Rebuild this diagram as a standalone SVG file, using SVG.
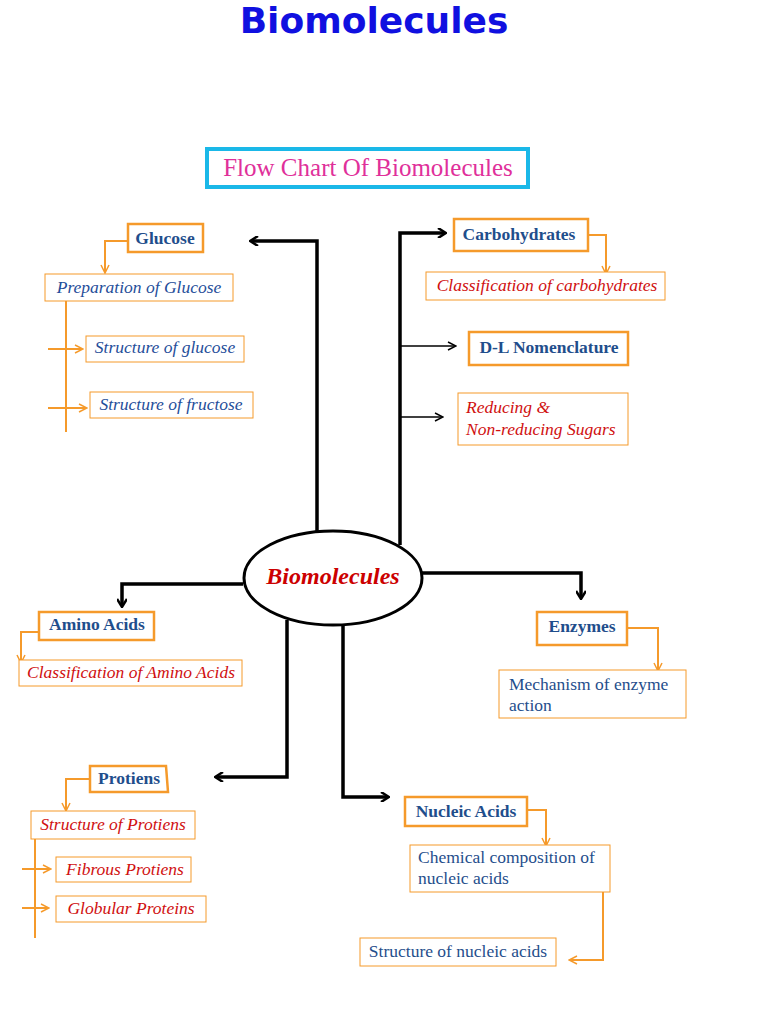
<svg xmlns="http://www.w3.org/2000/svg" width="768" height="1024" viewBox="0 0 768 1024">
<defs>
<marker id="ab" markerWidth="10" markerHeight="10" refX="8" refY="5" orient="auto" markerUnits="userSpaceOnUse"><path d="M1,0 L9,5 L1,10" fill="none" stroke="#000" stroke-width="2.5"/></marker>
<marker id="at" markerWidth="10" markerHeight="10" refX="8" refY="5" orient="auto" markerUnits="userSpaceOnUse"><path d="M1,1 L9,5 L1,9" fill="none" stroke="#000" stroke-width="1.5"/></marker>
<marker id="ao" markerWidth="10" markerHeight="10" refX="8" refY="5" orient="auto" markerUnits="userSpaceOnUse"><path d="M1,1 L9,5 L1,9" fill="none" stroke="#f59a2b" stroke-width="1.5"/></marker>
</defs>
<style>
.bk{fill:none;stroke:#000;stroke-width:3.5}
.th{fill:none;stroke:#000;stroke-width:1.5}
.oc{fill:none;stroke:#f59a2b;stroke-width:2}
.b2{fill:#fff;stroke:#f59a2b;stroke-width:2.5}
.b1{fill:#fff;stroke:#f59a2b;stroke-width:1}
text{font-family:"Liberation Serif",serif;font-size:17.5px}
.hb{fill:#1f4e8c;font-weight:bold}
.bi{fill:#1f4e9a;font-style:italic}
.ri{fill:#d01010;font-style:italic}
.bn{fill:#1f4e8c}
</style>
<text x="374" y="33" text-anchor="middle" style="font-family:'DejaVu Sans',sans-serif;font-size:36px;font-weight:bold;fill:#1010e0">Biomolecules</text>
<g id="title"><rect x="207" y="149" width="321" height="38" fill="#fff" stroke="#1ab8e8" stroke-width="4"/><text x="368" y="176" text-anchor="middle" style="font-size:25px;fill:#e0309a">Flow Chart Of Biomolecules</text></g>
<g id="connectors">
<path class="bk" d="M317,532 V241 H251" marker-end="url(#ab)"/>
<path class="bk" d="M400,545 V233 H445" marker-end="url(#ab)"/>
<path class="th" d="M400,346 H455" marker-end="url(#at)"/>
<path class="th" d="M400,417 H442" marker-end="url(#at)"/>
<path class="bk" d="M243,584 H122 V606" marker-end="url(#ab)"/>
<path class="bk" d="M422,573 H581 V598" marker-end="url(#ab)"/>
<path class="bk" d="M287,620 V777 H216" marker-end="url(#ab)"/>
<path class="bk" d="M343,625 V797 H388" marker-end="url(#ab)"/>
<path class="oc" d="M128,241 H105 V272" marker-end="url(#ao)"/>
<path class="oc" d="M66,301 V432"/>
<path class="oc" d="M48,349 H82" marker-end="url(#ao)"/>
<path class="oc" d="M48,408 H86" marker-end="url(#ao)"/>
<path class="oc" d="M588,235 H606 V273" marker-end="url(#ao)"/>
<path class="oc" d="M39,632 H21 V662" marker-end="url(#ao)"/>
<path class="oc" d="M627,628 H658 V670" marker-end="url(#ao)"/>
<path class="oc" d="M90,779 H66 V810" marker-end="url(#ao)"/>
<path class="oc" d="M35,839 V938"/>
<path class="oc" d="M22,869 H50" marker-end="url(#ao)"/>
<path class="oc" d="M22,908 H48" marker-end="url(#ao)"/>
<path class="oc" d="M527,810 H546 V845" marker-end="url(#ao)"/>
<path class="oc" d="M603,892 V960 H570" marker-end="url(#ao)"/>
</g>
<g id="center"><ellipse cx="333" cy="578" rx="89" ry="47" fill="#fff" stroke="#000" stroke-width="3"/><text x="333" y="584" text-anchor="middle" style="font-size:24px;font-weight:bold;font-style:italic;fill:#cc0000">Biomolecules</text></g>
<g id="glucose"><rect class="b2" x="128" y="224" width="75" height="28"/><text class="hb" x="165" y="244" text-anchor="middle">Glucose</text></g>
<g id="prep"><rect class="b1" x="45" y="274" width="188" height="27"/><text class="bi" x="139" y="293" text-anchor="middle">Preparation of Glucose</text></g>
<g id="sglu"><rect class="b1" x="86" y="336" width="158" height="26"/><text class="bi" x="165" y="353" text-anchor="middle">Structure of glucose</text></g>
<g id="sfru"><rect class="b1" x="90" y="392" width="163" height="26"/><text class="bi" x="171" y="410" text-anchor="middle">Structure of fructose</text></g>
<g id="carb"><rect class="b2" x="454" y="219" width="134" height="32"/><text class="hb" x="519" y="240" text-anchor="middle">Carbohydrates</text></g>
<g id="ccarb"><rect class="b1" x="426" y="272" width="239" height="28"/><text class="ri" x="547" y="291" text-anchor="middle">Classification of carbohydrates</text></g>
<g id="dl"><rect class="b2" x="469" y="332" width="159" height="33"/><text class="hb" x="549" y="353" text-anchor="middle">D-L Nomenclature</text></g>
<g id="red"><rect class="b1" x="458" y="393" width="170" height="52"/><text class="ri" x="466" y="413">Reducing &amp;</text><text class="ri" x="466" y="435">Non-reducing Sugars</text></g>
<g id="amino"><rect class="b2" x="39" y="612" width="115" height="28"/><text class="hb" x="97" y="630" text-anchor="middle">Amino Acids</text></g>
<g id="camino"><rect class="b1" x="19" y="660" width="223" height="26"/><text class="ri" x="131" y="678" text-anchor="middle">Classification of Amino Acids</text></g>
<g id="enz"><rect class="b2" x="537" y="612" width="90" height="33"/><text class="hb" x="582" y="632" text-anchor="middle">Enzymes</text></g>
<g id="mech"><rect class="b1" x="499" y="670" width="187" height="48"/><text class="bn" x="509" y="690">Mechanism of enzyme</text><text class="bn" x="509" y="711">action</text></g>
<g id="prot"><path class="b2" d="M90,766 H166 L168,792 H90 Z"/><text class="hb" x="129" y="784" text-anchor="middle">Protiens</text></g>
<g id="sprot"><rect class="b1" x="31" y="811" width="164" height="28"/><text class="ri" x="113" y="830" text-anchor="middle">Structure of Protiens</text></g>
<g id="fib"><rect class="b1" x="56" y="857" width="135" height="25"/><text class="ri" x="125" y="875" text-anchor="middle">Fibrous Protiens</text></g>
<g id="glob"><rect class="b1" x="56" y="896" width="150" height="26"/><text class="ri" x="131" y="914" text-anchor="middle">Globular Proteins</text></g>
<g id="nuc"><rect class="b2" x="405" y="797" width="122" height="29"/><text class="hb" x="466" y="817" text-anchor="middle">Nucleic Acids</text></g>
<g id="chem"><rect class="b1" x="410" y="845" width="200" height="47"/><text class="bn" x="418" y="863">Chemical composition of</text><text class="bn" x="418" y="884">nucleic acids</text></g>
<g id="snuc"><rect class="b1" x="360" y="938" width="196" height="28"/><text class="bn" x="458" y="957" text-anchor="middle">Structure of nucleic acids</text></g>
</svg>
